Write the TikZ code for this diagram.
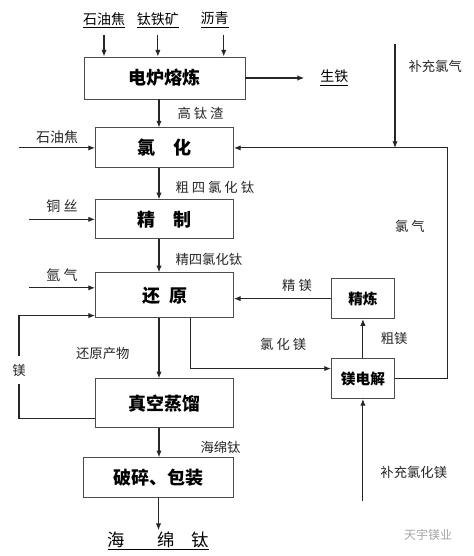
\documentclass[tikz,border=0pt]{standalone}
\usepackage{fontspec}
\setmainfont{Noto Sans CJK SC}
\usepackage{tikz}
\usetikzlibrary{arrows.meta, positioning}
\tikzstyle{block} = [draw=black!70, line width=0.7pt, rectangle, fill=white, inner sep=2pt]
\tikzstyle{stage} = [block, minimum width=103.5pt, minimum height=30pt, font=\fontsize{13.5}{16}\selectfont\bfseries]
\tikzstyle{unit} = [block, minimum width=47.25pt, minimum height=30pt, font=\fontsize{11}{13}\selectfont\bfseries]
\tikzstyle{tag} = [font=\fontsize{10}{12}\selectfont, inner sep=1pt]
\tikzstyle{feed} = [font=\fontsize{10.5}{12}\selectfont, inner sep=1pt]
\tikzstyle{flow} = [-{Latex[length=5pt, width=4pt]}, line width=0.8pt, black!85]

\begin{document}
\begin{tikzpicture}[x=0.75pt, y=-0.75pt]
    \useasboundingbox (0,0) rectangle (474,556);
    \node (smelt) [stage, minimum width=120.75pt, minimum height=31.5pt] at (164.5,78) {电炉熔炼};
    \node (chlor) [stage, below=21pt of smelt] {氯\hspace{1em}化};
    \node (refine) [stage, below=23.25pt of chlor, minimum height=29.25pt] {精\hspace{1em}制};
    \node (reduce) [stage, below=24.75pt of refine, minimum height=33.75pt] {还\hspace{0.5em}原};
    \node (distil) [stage, below=45pt of reduce, minimum height=36.75pt] {真空蒸馏};
    \node (pack) [stage, minimum width=112.5pt, below=21.75pt of distil.south east, anchor=north east] {破碎、包装};
    \node (sponge) [below=24pt of pack, font=\fontsize{13}{15}\selectfont, inner sep=1pt] {\underline{海\hspace{24pt}绵\hspace{13pt}钛}};
    \node (mgrefine) [unit, right=72.75pt of reduce, yshift=-2.5pt] {精炼};
    \node (electro) [unit, below=29.25pt of mgrefine] {镁电解};

    % Raw materials.
    \node (coke) [feed] at (104,20) {\underline{石油焦}};
    \node (ilmenite) [feed, right=6.5pt of coke] {\underline{钛铁矿}};
    \node (pitch) [feed, right=14pt of ilmenite] {\underline{沥青}};
    \node (pigiron) [feed, right=55pt of smelt] {\underline{生铁}};
    \coordinate (spine) at (159,0);
    \coordinate [left=57pt of chlor.west] (cokein);
    \coordinate [left=49.5pt of refine.west] (copperin);
    \coordinate [left=49.5pt of reduce.west, yshift=5.6pt] (argonin);
    \coordinate (mgx) at (19,370);
    \coordinate (clin) at (395,44);
    \coordinate [right=39.75pt of electro.east] (clx);
    \coordinate [below=76.5pt of electro] (mgclin);

    % Arrows.
    \draw [flow] ([yshift=-4pt]coke.south) -- (coke.south |- smelt.north);
    \draw [flow] ([yshift=-4pt]ilmenite.south) -- (ilmenite.south |- smelt.north);
    \draw [flow] ([xshift=6.75pt, yshift=-4pt]pitch.south) -- ([xshift=6.75pt]pitch.south |- smelt.north);
    \draw [flow] (smelt.east) -- ([xshift=-11pt]pigiron.west);
    \draw [flow] (smelt.south -| spine) -- node [tag, right=12.5pt] {高 钛 渣} (chlor.north -| spine);
    \draw [flow] (chlor.south -| spine) -- node [tag, right=11pt, pos=0.6] {粗 四 氯 化 钛} (refine.north -| spine);
    \draw [flow] (refine.south -| spine) -- node [tag, right=11pt, pos=0.6] {精四氯化钛} (reduce.north -| spine);
    \draw [flow] (reduce.south -| spine) -- node [tag, left=20.75pt, pos=0.58] {还原产物} (distil.north -| spine);
    \draw [flow] (distil.south -| spine) -- node [tag, right=29.75pt, pos=0.65] {海绵钛} (pack.north -| spine);
    \draw [flow] (pack) -- (sponge);
    \draw [flow] (cokein) -- node [feed, above=2pt] {石油焦} (chlor.west);
    \draw [flow] (copperin) -- node [feed, above=4pt] {铜 丝} (refine.west);
    \draw [flow] (argonin) -- node [feed, above=3pt] {氩 气} (argonin -| reduce.west);
    \draw [flow] ([yshift=-11.6pt]distil.west) -| (mgx) node [tag, fill=white, inner ysep=6pt] {镁} |- ([yshift=2pt]reduce.south west);
    \draw [flow] (mgrefine.west) -- node [tag, above=3.5pt, pos=0.35] {精 镁} (mgrefine.west -| reduce.east);
    \draw [flow] (electro) -- node [tag, right=12pt] {粗镁} (mgrefine);
    \draw [flow] ([xshift=19.5pt]reduce.south) |- node [tag, above=12pt, pos=0.83] {氯 化 镁} ([yshift=7.5pt]electro.west);
    \draw [flow] (electro.east) -| node [tag, left=16pt, pos=0.83] {氯 气} (clx |- chlor.east) -- (chlor.east);
    \draw [flow] (clin) -- node [tag, right=8.75pt, pos=0.22] {补充氯气} (clin |- chlor.east);
    \draw [flow] (mgclin) -- node [tag, right=11.75pt, pos=0.28] {补充氯化镁} (electro);
    \node (mark) [font=\fontsize{9}{10}\selectfont, text=black!35] at (428,535) {天宇镁业};
\end{tikzpicture}
\end{document}
